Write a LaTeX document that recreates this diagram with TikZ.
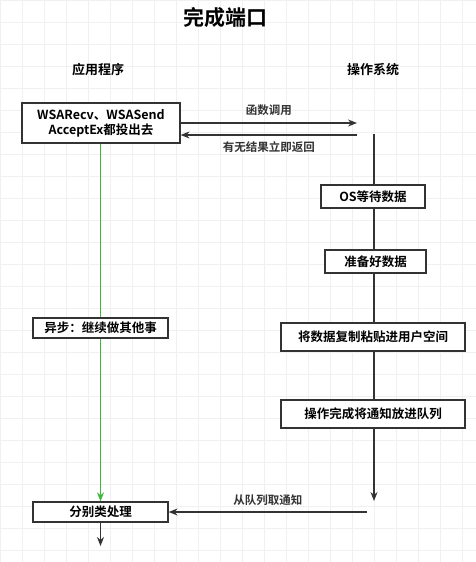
\documentclass[tikz,border=0pt]{standalone}
\usepackage{fontspec}
\setmainfont{Noto Sans CJK SC}[BoldFont={Noto Sans CJK SC Bold}]
\usepackage{xcolor}
\usetikzlibrary{arrows.meta}
\definecolor{linegray}{HTML}{333333}
\definecolor{greenline}{HTML}{3DB83D}

\begin{document}
\begin{tikzpicture}[x=1pt, y=-1pt,
    box/.style={draw=linegray, line width=1.2pt, fill=white, inner sep=0pt, align=center, font=\bfseries\fontsize{12.5}{15}\selectfont},
    arrow/.style={-{Stealth[length=9pt, width=7pt]}, draw=linegray, line width=1.2pt},
    lbl/.style={font=\bfseries\fontsize{11.5}{13}\selectfont, text=linegray}
]
    \useasboundingbox (0,0) rectangle (476,562);
    \fill[white] (0,0) rectangle (476,562);
    \draw[black!6, step=22pt] (0,0) grid (476,562);

    % Titles
    \node[font=\bfseries\fontsize{21}{24}\selectfont] (title) at (225,18) {完成端口};
    \node[font=\bfseries\fontsize{13}{15}\selectfont] (app) at (98,70) {应用程序};
    \node[font=\bfseries\fontsize{13}{15}\selectfont] (os) at (373,70) {操作系统};

    % Application side
    \node[box, minimum width=158pt, minimum height=40pt] (post) at (101,123) {WSARecv、WSASend\\AcceptEx都投出去};
    \coordinate (osstart) at (374,134);
    \coordinate (call) at (357,123);
    \coordinate (back) at (357,135);

    % Green lifeline
    \node[box, minimum width=135pt, minimum height=20pt] (sort) at (100.5,512) {分别类处理};
    \draw[-{Stealth[length=9pt, width=7pt]}, draw=greenline, fill=greenline, line width=1.3pt] (post.south -| sort.north) -- (sort.north);
    \node[box, minimum width=135pt, minimum height=20pt] (async) at (100.5,328) {异步：继续做其他事};
    \coordinate (append) at (100.5,546);

    % OS side
    \node[box, minimum width=104pt, minimum height=23pt] (wait) at (373,196.5) {OS等待数据};
    \node[box, minimum width=101pt, minimum height=23pt] (ready) at (375.5,261.5) {准备好数据};
    \node[box, minimum width=184pt, minimum height=28pt] (copy) at (373,337) {将数据复制粘贴进用户空间};
    \node[box, minimum width=184pt, minimum height=28pt] (queue) at (373,414) {操作完成将通知放进队列};
    \coordinate (osend) at (374,501);
    \coordinate (fetch) at (367,512);

    % Arrows
    \draw[arrow] (post.east |- call) -- node[lbl, above=3pt] {函数调用} (call);
    \draw[arrow] (back) -- node[lbl, below=3pt] {有无结果立即返回} (post.east |- back);
    \draw[linegray, line width=1.2pt] (osstart) -- (osstart |- wait.north);
    \draw[linegray, line width=1.2pt] (osstart |- wait.south) -- (osstart |- ready.north);
    \draw[linegray, line width=1.2pt] (osstart |- ready.south) -- (osstart |- copy.north);
    \draw[linegray, line width=1.2pt] (osstart |- copy.south) -- (osstart |- queue.north);
    \draw[arrow] (osstart |- queue.south) -- (osend);
    \draw[arrow] (fetch) -- node[lbl, above=2pt] {从队列取通知} (sort.east |- fetch);
    \draw[arrow] (sort.south) -- (append);
\end{tikzpicture}
\end{document}
